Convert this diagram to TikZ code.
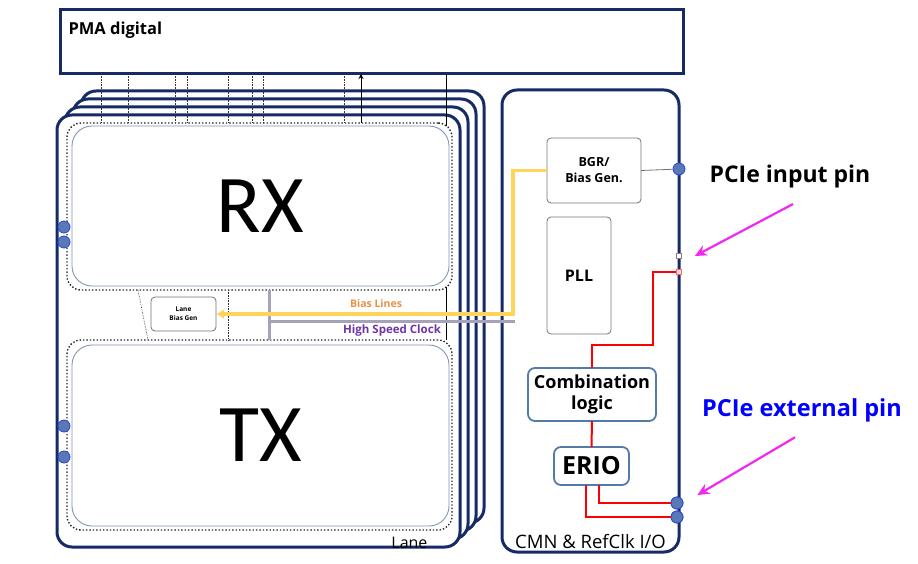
\documentclass[tikz,border=0pt]{standalone}
\usepackage{fontspec}
\setmainfont{Open Sans}
\newfontfamily\bigfont{Carlito}
\usetikzlibrary{arrows.meta, calc, positioning}
\definecolor{mynavy1}{RGB}{22, 42, 102}
\definecolor{mysteel1}{RGB}{84, 122, 168}
\definecolor{mypinblue1}{RGB}{90, 120, 180}
\definecolor{myedgeblue1}{RGB}{40, 70, 220}
\definecolor{myyellow1}{RGB}{255, 212, 90}
\definecolor{myorange1}{RGB}{232, 146, 70}
\definecolor{mygray1}{RGB}{166, 162, 186}
\definecolor{mypurple1}{RGB}{112, 52, 168}
\definecolor{mymagenta1}{RGB}{240, 40, 240}
\definecolor{myinner1}{RGB}{130, 150, 180}

\tikzset{
  lanebox/.style={draw=mynavy1, line width=3pt, fill=white, rounded corners=15pt, minimum width=403, minimum height=432, outer sep=0},
  dotbox/.style={draw=black!85, dotted, line width=1.4pt, fill=white, rounded corners=14pt, minimum width=385, outer sep=0},
  corebox/.style={draw=myinner1, line width=0.9pt, fill=white, rounded corners=20pt, minimum width=377, outer sep=0, font=\bigfont\fontsize{82}{82}\selectfont},
  graybox/.style={draw=black!55, line width=0.8pt, rounded corners=4pt, align=center, outer sep=0},
  bluebox/.style={draw=mysteel1, line width=1.8pt, rounded corners=7pt, align=center, outer sep=0, font=\bfseries},
  bus/.style={densely dotted, line width=0.6pt, black!80},
  pin/.style={circle, draw=myedgeblue1, fill=mypinblue1, line width=0.8pt, minimum size=12, inner sep=0},
  bias/.style={myyellow1, line width=3.5pt},
  hsclk/.style={mygray1, line width=3pt},
  pcie/.style={red, line width=2pt},
  callout/.style={mymagenta1, line width=2.2pt, -{Stealth[length=12pt, width=11pt]}}
}

\begin{document}
\begin{tikzpicture}[x=1pt, y=-1pt]
\useasboundingbox (0,0) rectangle (918,564);

% --- PMA digital ---
\node [draw=mynavy1, line width=3pt, minimum width=623, minimum height=64, outer sep=0] (pma) at (371.5,42) {};
\node [anchor=west, font=\bfseries\fontsize{16.5}{18}\selectfont] (pmatext) at (65,30) {PMA digital};

% --- Lanes (stacked) ---
\foreach \i in {3,2,1}
  \node [lanebox] (lane\i) at (258.5+8*\i, 331-8*\i) {};
\node [lanebox] (lane0) at (258.5,331) {};
\node [anchor=south east, font=\fontsize{16}{18}\selectfont] (lanetext) at (431,552) {Lane};

% --- wires from PMA ---
\draw [black, line width=1pt] (446,0 |- pma.south) -- (446,0 |- 0,340);
\node [dotbox, minimum height=167] (rxdot) at (259.5,206.5) {};
\node [dotbox, minimum height=190] (txdot) at (259.5,435) {};
\foreach \x in {101,128,175,187,228,252,263,344}
  \draw [bus] (\x,0 |- pma.south) -- (\x,0 |- rxdot.north);
\draw [black, line width=1pt, -{Stealth[length=5pt, width=5pt]}] (361,0 |- rxdot.north) -- (361,0 |- pma.south);

% --- RX / TX ---
\node [corebox, minimum height=160] (rx) at (260.5,206) {RX};
\node [corebox, minimum height=181] (tx) at (260.5,435.5) {TX};
\foreach \y in {227,242}
  \node [pin] (rxpin\y) at (64,\y) {};
\foreach \y in {426,457}
  \node [pin] (txpin\y) at (64,\y) {};

% --- between RX and TX ---
\draw [bus] (138,0 |- rxdot.south) -- (148,0 |- txdot.north);
\draw [bus] (228,0 |- rxdot.south) -- (228,0 |- txdot.north);
\node [graybox, minimum width=65, minimum height=34, font=\bfseries\fontsize{6.5}{9}\selectfont] (lanebias) at (183.5,314) {Lane\\Bias Gen};

% --- CMN & RefClk I/O ---
\node [draw=mynavy1, line width=3pt, rounded corners=15pt, minimum width=177, minimum height=462, outer sep=0] (cmn) at (590.5,321) {};
\node [anchor=south, font=\fontsize{18.5}{20}\selectfont] (cmntext) at (590.5,552) {CMN \& RefClk I/O};
\node [graybox, minimum width=94, minimum height=65, font=\bfseries\fontsize{12.5}{16}\selectfont] (bgr) at (594,170.5) {BGR/\\Bias Gen.};
\node [graybox, minimum width=64, minimum height=117, font=\bfseries\fontsize{16}{18}\selectfont] (pll) at (579,275.5) {PLL};
\node [bluebox, minimum width=128, minimum height=53, font=\bfseries\fontsize{18}{21}\selectfont] (combo) at (592,394.5) {Combination\\logic};
\node [bluebox, minimum width=75, minimum height=38, font=\bfseries\fontsize{25}{27}\selectfont] (erio) at (591.5,466) {ERIO};

% --- pins ---
\node [pin] (bgrpin) at (679,169) {};
\node [draw=black!50, fill=white, line width=0.6pt, minimum size=5, inner sep=0] (pina) at (679,256) {};
\node [draw=red!60, fill=red!15, line width=0.6pt, minimum size=5, inner sep=0] (pinb) at (679,272) {};
\node [pin] (extpin1) at (677,503) {};
\node [pin] (extpin2) at (677,517) {};

% --- signals ---
\coordinate (clkin) at (515,321);
\draw [hsclk] (269,0 |- rxdot.south) -- (269,0 |- txdot.north);
\draw [hsclk] (clkin) -- (269,0 |- clkin);
\draw [bias, -{Latex[length=8pt, width=10pt]}] (bgr.west) -- ++(-34,0) |- (lanebias.east);
\node [myorange1, font=\bfseries\fontsize{10.5}{12}\selectfont] (biastext) at (376,304) {Bias Lines};
\node [mypurple1, font=\bfseries\fontsize{11.5}{13}\selectfont] (clktext) at (392,331) {High Speed Clock};
\draw [black!55, line width=0.8pt] (bgr.east) -- (bgrpin);

\draw [pcie] (pinb.west) -| ($(pinb)+(-26,73)$) -| (combo.north);
\draw [pcie] (combo.south) -- (erio.north);
\draw [pcie] ([xshift=7.5pt]erio.south) |- (extpin1.west);
\draw [pcie] ([xshift=-5.5pt]erio.south) |- (extpin2.west);
\node [pin] at (extpin1) {};
\node [pin] at (extpin2) {};

% --- callouts ---
\node [font=\bfseries\fontsize{23}{25}\selectfont] (inlabel) at (790,177) {PCIe input pin};
\node [blue, font=\bfseries\fontsize{23.5}{25}\selectfont] (extlabel) at (802,410) {PCIe external pin};
\draw [callout] ([shift={(3,12)}]inlabel.south) -- ([shift={(13,0)}]pina.east);
\draw [callout] ([shift={(-7,12)}]extlabel.south) -- ([shift={(14,-8)}]extpin1.east);
\end{tikzpicture}
\end{document}
